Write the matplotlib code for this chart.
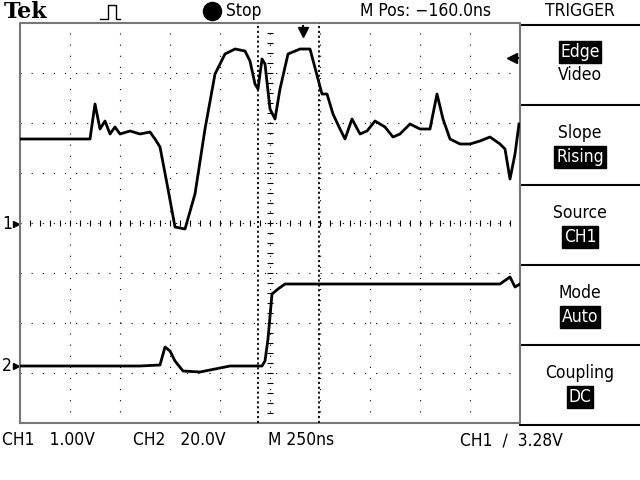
import matplotlib
matplotlib.use("Agg")
import matplotlib.pyplot as plt
import numpy as np

ch1_x = [20,90,95,100,105,110,115,120,130,140,150,155,160,168,175,185,195,205,215,225,235,245,250,255,258,262,265,270,275,280,288,300,310,318,322,327,333,340,345,352,360,367,375,385,393,400,410,420,430,437,443,450,460,470,480,490,500,505,510,515,519]
ch1_y = [140,140,105,130,122,135,128,135,132,135,133,140,148,190,228,230,195,130,75,55,50,52,62,85,90,60,65,110,120,90,55,50,50,80,95,95,115,130,140,120,135,132,122,128,138,135,125,130,130,95,120,140,145,145,142,138,145,150,180,155,125]
ch2_x = [20,60,100,140,160,165,170,175,183,200,215,230,262,265,268,272,278,285,300,400,500,510,515,520]
ch2_y = [367,367,367,367,366,348,352,362,372,373,370,367,367,362,340,295,290,285,285,285,285,278,288,285]
ch1_t = [(x-20)/50 for x in ch1_x]; ch1_v = [(224-y)/50 for y in ch1_y]
ch2_t = [(x-20)/50 for x in ch2_x]; ch2_v = [(224-y)/50 for y in ch2_y]

fig = plt.figure(figsize=(6.4,4.8), dpi=100)
bg = fig.add_axes([0,0,1,1]); bg.set_xlim(0,640); bg.set_ylim(480,0); bg.axis('off')
ax = fig.add_axes([20/640, (480-423)/480, 500/640, 400/480])
ax.set_xlim(0,10); ax.set_ylim(-4,4); ax.axis('off')
for i in range(1,10):
    ax.axvline(i, color='k', lw=0.8, ls=(0,(1,9)))
for j in range(-3,4):
    ax.axhline(j, color='k', lw=0.8, ls=(0,(1,9)))
mt = np.arange(0.2,10,0.2)
ax.plot(mt, np.zeros_like(mt), '|', color='k', ms=4, mew=0.8)
mv = np.arange(-3.8,4,0.2)
ax.plot(np.full_like(mv,5), mv, '_', color='k', ms=4, mew=0.8)
ax.plot([0,10,10,0,0],[-4,-4,4,4,-4], color='#777777', lw=1.5, clip_on=False)
for c in [4.76, 5.98]:
    ax.axvline(c, color='k', lw=1.3, ls=(0,(1.2,1.5)))
ax.plot(ch1_t, ch1_v, color='k', lw=2)
ax.plot(ch2_t, ch2_v, color='k', lw=2)

f = 'DejaVu Sans'
kw = dict(family=f, fontsize=12.5, stretch='condensed')
bg.text(4, 12, 'Tek', family='DejaVu Serif', fontweight='bold', fontsize=16, va='center')
bg.plot([100,104,104,108,108,116,116,120],[19,19,19,19,5,5,19,19], color='k', lw=1)
bg.plot([212],[11], 'o', color='k', ms=13)
bg.text(226, 11, 'Stop', va='center', **kw)
bg.text(360, 11, 'M Pos: \u2212160.0ns', va='center', **kw)
bg.text(580, 11, 'TRIGGER', va='center', ha='center', **kw)
bg.text(2, 440, 'CH1   1.00V', va='center', **kw)
bg.text(133, 440, 'CH2   20.0V', va='center', **kw)
bg.text(268, 440, 'M 250ns', va='center', **kw)
bg.text(460, 440, 'CH1  \u2215  3.28V', va='center', **kw)
bg.text(2, 224, '1', va='center', **kw); bg.plot([16],[224], marker='>', color='k', ms=5)
bg.text(2, 366, '2', va='center', **kw); bg.plot([16],[366], marker='>', color='k', ms=5)
bg.plot([303],[32], marker='v', color='k', ms=7); bg.plot([303,303],[26,34],color='k',lw=1.5)
bg.plot([512],[58], marker='<', color='k', ms=7); bg.plot([512,519],[58,58],color='k',lw=1.5)
for y in [25,105,185,265,345,425]:
    bg.plot([520,640],[y,y], color='k', lw=1.5)
menu = [(52,'Edge',True),(75,'Video',False),(133,'Slope',False),(157,'Rising',True),
        (213,'Source',False),(237,'CH1',True),(293,'Mode',False),(317,'Auto',True),
        (373,'Coupling',False),(397,'DC',True)]
for y,t,hl in menu:
    if hl:
        bg.text(580,y,t,ha='center',va='center',color='white',
                bbox=dict(boxstyle='square,pad=0.1',fc='black',ec='black'), **kw)
    else:
        bg.text(580,y,t,ha='center',va='center',color='black',**kw)
fig.savefig('out.png', dpi=100)
